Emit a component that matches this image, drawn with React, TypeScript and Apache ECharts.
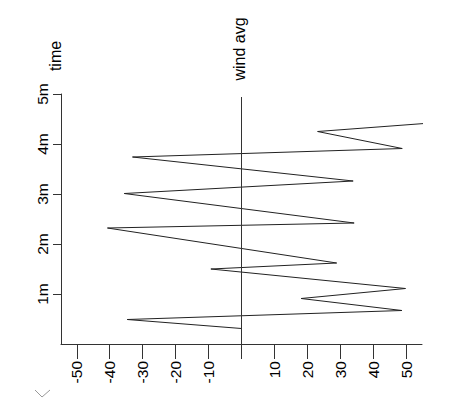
import React, { useEffect, useRef } from "react";
import * as echarts from "echarts";

const windAvg: number[] = [0, -34.7, 48.7, 18.1, 49.8, -9.3, 28.9, -40.7, 34.2, -35.6, 33.9, -33.1, 48.8, 23.1, 55.5];
const timeMin: number[] = [0.31, 0.49, 0.67, 0.91, 1.11, 1.5, 1.62, 2.32, 2.42, 3.01, 3.26, 3.74, 3.91, 4.25, 4.41];
const xTicks: number[] = [-50, -40, -30, -20, -10, 0, 10, 20, 30, 40, 50];
const xLabels: number[] = [-50, -40, -30, -20, -10, 10, 20, 30, 40, 50];
const yTicks: number[] = [1, 2, 3, 4, 5];
const refLineX: number[] = [0, 0];
const refLineY: number[] = [0, 4.94];

export default function App() {
  const ref = useRef<HTMLDivElement>(null);
  useEffect(() => {
    if (!ref.current) return;
    const chart = echarts.init(ref.current, null, { renderer: "svg" });
    const font = "'Liberation Sans', Arial, sans-serif";
    chart.setOption({
      animation: false,
      backgroundColor: "#ffffff",
      grid: { left: 61, top: 94, width: 361, height: 250 },
      xAxis: {
        type: "value",
        min: -54.8,
        max: 54.8,
        splitLine: { show: false },
        axisLine: { show: true, onZero: false, lineStyle: { color: "#333", width: 1 } },
        axisTick: { show: true, length: 15, customValues: xTicks, lineStyle: { color: "#333" } },
        axisLabel: {
          customValues: xLabels,
          rotate: 90,
          margin: 17,
          color: "#000",
          fontSize: 15.5,
          fontFamily: font,
        },
      },
      yAxis: {
        type: "value",
        min: 0,
        max: 5,
        splitLine: { show: false },
        axisLine: { show: true, onZero: false, lineStyle: { color: "#333", width: 1 } },
        axisTick: { show: true, length: 8, customValues: yTicks, lineStyle: { color: "#333" } },
        axisLabel: {
          customValues: yTicks,
          rotate: 90,
          margin: 11,
          color: "#000",
          fontSize: 15.5,
          fontFamily: font,
          formatter: (v: number) => `${v}m`,
        },
      },
      series: [
        {
          type: "line",
          data: windAvg.map((x, i) => [x, timeMin[i]]),
          showSymbol: false,
          symbol: "none",
          clip: false,
          lineStyle: { color: "#222", width: 1 },
        },
        {
          type: "line",
          data: refLineX.map((x, i) => [x, refLineY[i]]),
          showSymbol: false,
          symbol: "none",
          clip: false,
          lineStyle: { color: "#333", width: 1 },
        },
      ],
      graphic: [
        {
          type: "text",
          x: 55,
          y: 56,
          rotation: Math.PI / 2,
          style: { text: "time", fill: "#000", font: `16px ${font}`, align: "center", verticalAlign: "middle" },
        },
        {
          type: "text",
          x: 239,
          y: 49,
          rotation: Math.PI / 2,
          style: { text: "wind avg", fill: "#000", font: `16px ${font}`, align: "center", verticalAlign: "middle" },
        },
        {
          type: "polyline",
          shape: { points: [[35, 390], [42, 397], [50, 390]] },
          style: { stroke: "#999", lineWidth: 1, fill: null },
        },
      ],
    });
    return () => chart.dispose();
  }, []);
  return <div ref={ref} style={{ position: "fixed", left: 0, top: 0, width: 474, height: 399 }} />;
}
